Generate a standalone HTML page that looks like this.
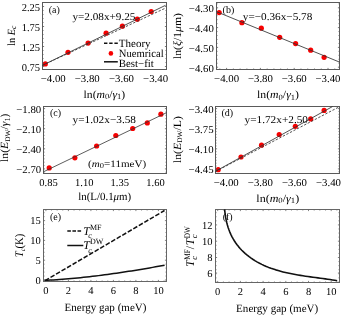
<!DOCTYPE html>
<html><head><meta charset="utf-8"><style>
html,body{margin:0;padding:0;background:#fff;width:343px;height:317px;overflow:hidden}
svg{display:block;will-change:transform}
text{text-rendering:geometricPrecision}
</style></head><body>
<svg width="343" height="317" viewBox="0 0 343 317">
<rect width="343" height="317" fill="#fff"/>
<circle cx="45.3" cy="63.9" r="2.6" fill="#f70000"/>
<circle cx="68" cy="52.3" r="2.6" fill="#f70000"/>
<circle cx="88.1" cy="43.1" r="2.6" fill="#f70000"/>
<circle cx="106.1" cy="33.2" r="2.6" fill="#f70000"/>
<circle cx="122.4" cy="26.2" r="2.6" fill="#f70000"/>
<circle cx="137.3" cy="19.2" r="2.6" fill="#f70000"/>
<circle cx="151.2" cy="11.6" r="2.6" fill="#f70000"/>
<circle cx="110.9" cy="53.4" r="2.3" fill="#f70000"/>
<circle cx="219.2" cy="12.6" r="2.6" fill="#f70000"/>
<circle cx="241.9" cy="22.7" r="2.6" fill="#f70000"/>
<circle cx="261.3" cy="28.2" r="2.6" fill="#f70000"/>
<circle cx="279.7" cy="37.3" r="2.6" fill="#f70000"/>
<circle cx="295.6" cy="43.6" r="2.6" fill="#f70000"/>
<circle cx="310.7" cy="50.2" r="2.6" fill="#f70000"/>
<circle cx="324.1" cy="57.3" r="2.6" fill="#f70000"/>
<circle cx="49.2" cy="167.9" r="2.6" fill="#f70000"/>
<circle cx="74.9" cy="157.8" r="2.6" fill="#f70000"/>
<circle cx="96.6" cy="146" r="2.6" fill="#f70000"/>
<circle cx="115.8" cy="135.5" r="2.6" fill="#f70000"/>
<circle cx="132.7" cy="128.5" r="2.6" fill="#f70000"/>
<circle cx="147.3" cy="122.9" r="2.6" fill="#f70000"/>
<circle cx="160.9" cy="114.2" r="2.6" fill="#f70000"/>
<circle cx="218.2" cy="169.7" r="2.6" fill="#f70000"/>
<circle cx="241" cy="157" r="2.6" fill="#f70000"/>
<circle cx="261.5" cy="145.2" r="2.6" fill="#f70000"/>
<circle cx="279.2" cy="134.5" r="2.6" fill="#f70000"/>
<circle cx="295.3" cy="126.3" r="2.6" fill="#f70000"/>
<circle cx="310.7" cy="118.9" r="2.6" fill="#f70000"/>
<circle cx="324.1" cy="110.4" r="2.6" fill="#f70000"/>
<rect x="42.5" y="2.5" width="124.0" height="67.0" fill="none" stroke="#5a5a5a" stroke-width="1"/>
<line x1="42.5" y1="6.5" x2="44.1" y2="6.5" stroke="#5a5a5a" stroke-width="0.8"/>
<line x1="42.5" y1="26.5" x2="44.1" y2="26.5" stroke="#5a5a5a" stroke-width="0.8"/>
<line x1="42.5" y1="46.5" x2="44.1" y2="46.5" stroke="#5a5a5a" stroke-width="0.8"/>
<line x1="42.5" y1="66.5" x2="44.1" y2="66.5" stroke="#5a5a5a" stroke-width="0.8"/>
<line x1="42.5" y1="10.5" x2="43.5" y2="10.5" stroke="#5a5a5a" stroke-width="0.8"/>
<line x1="42.5" y1="14.5" x2="43.5" y2="14.5" stroke="#5a5a5a" stroke-width="0.8"/>
<line x1="42.5" y1="18.5" x2="43.5" y2="18.5" stroke="#5a5a5a" stroke-width="0.8"/>
<line x1="42.5" y1="22.5" x2="43.5" y2="22.5" stroke="#5a5a5a" stroke-width="0.8"/>
<line x1="42.5" y1="30.5" x2="43.5" y2="30.5" stroke="#5a5a5a" stroke-width="0.8"/>
<line x1="42.5" y1="34.5" x2="43.5" y2="34.5" stroke="#5a5a5a" stroke-width="0.8"/>
<line x1="42.5" y1="38.5" x2="43.5" y2="38.5" stroke="#5a5a5a" stroke-width="0.8"/>
<line x1="42.5" y1="42.5" x2="43.5" y2="42.5" stroke="#5a5a5a" stroke-width="0.8"/>
<line x1="42.5" y1="50.5" x2="43.5" y2="50.5" stroke="#5a5a5a" stroke-width="0.8"/>
<line x1="42.5" y1="54.5" x2="43.5" y2="54.5" stroke="#5a5a5a" stroke-width="0.8"/>
<line x1="42.5" y1="58.5" x2="43.5" y2="58.5" stroke="#5a5a5a" stroke-width="0.8"/>
<line x1="42.5" y1="62.5" x2="43.5" y2="62.5" stroke="#5a5a5a" stroke-width="0.8"/>
<line x1="166.5" y1="6.5" x2="164.9" y2="6.5" stroke="#5a5a5a" stroke-width="0.8"/>
<line x1="166.5" y1="26.5" x2="164.9" y2="26.5" stroke="#5a5a5a" stroke-width="0.8"/>
<line x1="166.5" y1="46.5" x2="164.9" y2="46.5" stroke="#5a5a5a" stroke-width="0.8"/>
<line x1="166.5" y1="66.5" x2="164.9" y2="66.5" stroke="#5a5a5a" stroke-width="0.8"/>
<line x1="166.5" y1="10.5" x2="165.5" y2="10.5" stroke="#5a5a5a" stroke-width="0.8"/>
<line x1="166.5" y1="14.5" x2="165.5" y2="14.5" stroke="#5a5a5a" stroke-width="0.8"/>
<line x1="166.5" y1="18.5" x2="165.5" y2="18.5" stroke="#5a5a5a" stroke-width="0.8"/>
<line x1="166.5" y1="22.5" x2="165.5" y2="22.5" stroke="#5a5a5a" stroke-width="0.8"/>
<line x1="166.5" y1="30.5" x2="165.5" y2="30.5" stroke="#5a5a5a" stroke-width="0.8"/>
<line x1="166.5" y1="34.5" x2="165.5" y2="34.5" stroke="#5a5a5a" stroke-width="0.8"/>
<line x1="166.5" y1="38.5" x2="165.5" y2="38.5" stroke="#5a5a5a" stroke-width="0.8"/>
<line x1="166.5" y1="42.5" x2="165.5" y2="42.5" stroke="#5a5a5a" stroke-width="0.8"/>
<line x1="166.5" y1="50.5" x2="165.5" y2="50.5" stroke="#5a5a5a" stroke-width="0.8"/>
<line x1="166.5" y1="54.5" x2="165.5" y2="54.5" stroke="#5a5a5a" stroke-width="0.8"/>
<line x1="166.5" y1="58.5" x2="165.5" y2="58.5" stroke="#5a5a5a" stroke-width="0.8"/>
<line x1="166.5" y1="62.5" x2="165.5" y2="62.5" stroke="#5a5a5a" stroke-width="0.8"/>
<text x="40.0" y="10.8" font-family='"Liberation Serif", serif' font-size="10.5" text-anchor="end" >2.25</text>
<text x="40.0" y="30.8" font-family='"Liberation Serif", serif' font-size="10.5" text-anchor="end" >1.75</text>
<text x="40.0" y="50.8" font-family='"Liberation Serif", serif' font-size="10.5" text-anchor="end" >1.25</text>
<text x="40.0" y="70.8" font-family='"Liberation Serif", serif' font-size="10.5" text-anchor="end" >0.75</text>
<text x="53.2" y="81.8" font-family='"Liberation Serif", serif' font-size="10.5" text-anchor="middle" textLength="25.0" lengthAdjust="spacingAndGlyphs" >−4.00</text>
<text x="87.25" y="81.8" font-family='"Liberation Serif", serif' font-size="10.5" text-anchor="middle" textLength="25.0" lengthAdjust="spacingAndGlyphs" >−3.80</text>
<text x="121.5" y="81.8" font-family='"Liberation Serif", serif' font-size="10.5" text-anchor="middle" textLength="25.0" lengthAdjust="spacingAndGlyphs" >−3.60</text>
<text x="155.6" y="81.8" font-family='"Liberation Serif", serif' font-size="10.5" text-anchor="middle" textLength="25.0" lengthAdjust="spacingAndGlyphs" >−3.40</text>
<text x="104.4" y="97.9" font-family='"Liberation Serif", serif' font-size="11" text-anchor="middle" textLength="41.6" lengthAdjust="spacingAndGlyphs">ln(<tspan font-style="italic">m</tspan><tspan font-size="8" dy="1.4">0</tspan><tspan dy="-1.4">/</tspan><tspan font-style="italic">γ</tspan><tspan font-size="8" dy="1.4">1</tspan><tspan dy="-1.4">)</tspan></text>
<text transform="translate(14.6,35.7) rotate(-90)" font-family='"Liberation Serif", serif' font-size="11" text-anchor="middle" textLength="20.2" lengthAdjust="spacingAndGlyphs">ln <tspan font-style="italic">E</tspan><tspan font-size="8" dy="1.8" font-style="italic">c</tspan></text>
<text x="48.7" y="13.3" font-family='"Liberation Serif", serif' font-size="10" text-anchor="start" >(a)</text>
<text x="72.4" y="20.3" font-family='"Liberation Serif", serif' font-size="10.5" text-anchor="start" textLength="63" lengthAdjust="spacingAndGlyphs" >y=2.08x+9.25</text>
<line x1="42.5" y1="65.3" x2="165.5" y2="5.3" stroke="#333" stroke-width="0.85"/>
<line x1="42.5" y1="65.3" x2="165.5" y2="8.1" stroke="#333" stroke-width="0.85" stroke-dasharray="2.4,1.6"/>
<line x1="104" y1="43.3" x2="117.8" y2="43.3" stroke="#111" stroke-width="1.5" stroke-dasharray="3.4,1.8"/>
<text x="118.8" y="46.6" font-family='"Liberation Serif", serif' font-size="11" text-anchor="start" textLength="31.8" lengthAdjust="spacingAndGlyphs" >Theory</text>
<text x="118.8" y="56.6" font-family='"Liberation Serif", serif' font-size="11" text-anchor="start" textLength="44.8" lengthAdjust="spacingAndGlyphs" >Nuemrical</text>
<line x1="104" y1="61.8" x2="117.8" y2="61.8" stroke="#111" stroke-width="1.5"/>
<text x="118.8" y="66.6" font-family='"Liberation Serif", serif' font-size="11" text-anchor="start" textLength="35.1" lengthAdjust="spacingAndGlyphs" >Best−fit</text>
<rect x="216.5" y="2.5" width="123.0" height="67.0" fill="none" stroke="#5a5a5a" stroke-width="1"/>
<line x1="216.5" y1="7.8" x2="218.1" y2="7.8" stroke="#5a5a5a" stroke-width="0.8"/>
<line x1="216.5" y1="27.6" x2="218.1" y2="27.6" stroke="#5a5a5a" stroke-width="0.8"/>
<line x1="216.5" y1="47.4" x2="218.1" y2="47.4" stroke="#5a5a5a" stroke-width="0.8"/>
<line x1="216.5" y1="67.2" x2="218.1" y2="67.2" stroke="#5a5a5a" stroke-width="0.8"/>
<line x1="216.5" y1="3.84" x2="217.5" y2="3.84" stroke="#5a5a5a" stroke-width="0.8"/>
<line x1="216.5" y1="11.76" x2="217.5" y2="11.76" stroke="#5a5a5a" stroke-width="0.8"/>
<line x1="216.5" y1="15.719999999999999" x2="217.5" y2="15.719999999999999" stroke="#5a5a5a" stroke-width="0.8"/>
<line x1="216.5" y1="19.68" x2="217.5" y2="19.68" stroke="#5a5a5a" stroke-width="0.8"/>
<line x1="216.5" y1="23.64" x2="217.5" y2="23.64" stroke="#5a5a5a" stroke-width="0.8"/>
<line x1="216.5" y1="31.56" x2="217.5" y2="31.56" stroke="#5a5a5a" stroke-width="0.8"/>
<line x1="216.5" y1="35.519999999999996" x2="217.5" y2="35.519999999999996" stroke="#5a5a5a" stroke-width="0.8"/>
<line x1="216.5" y1="39.48" x2="217.5" y2="39.48" stroke="#5a5a5a" stroke-width="0.8"/>
<line x1="216.5" y1="43.44" x2="217.5" y2="43.44" stroke="#5a5a5a" stroke-width="0.8"/>
<line x1="216.5" y1="51.36" x2="217.5" y2="51.36" stroke="#5a5a5a" stroke-width="0.8"/>
<line x1="216.5" y1="55.31999999999999" x2="217.5" y2="55.31999999999999" stroke="#5a5a5a" stroke-width="0.8"/>
<line x1="216.5" y1="59.279999999999994" x2="217.5" y2="59.279999999999994" stroke="#5a5a5a" stroke-width="0.8"/>
<line x1="216.5" y1="63.239999999999995" x2="217.5" y2="63.239999999999995" stroke="#5a5a5a" stroke-width="0.8"/>
<line x1="339.5" y1="7.8" x2="337.9" y2="7.8" stroke="#5a5a5a" stroke-width="0.8"/>
<line x1="339.5" y1="27.6" x2="337.9" y2="27.6" stroke="#5a5a5a" stroke-width="0.8"/>
<line x1="339.5" y1="47.4" x2="337.9" y2="47.4" stroke="#5a5a5a" stroke-width="0.8"/>
<line x1="339.5" y1="67.2" x2="337.9" y2="67.2" stroke="#5a5a5a" stroke-width="0.8"/>
<line x1="339.5" y1="3.84" x2="338.5" y2="3.84" stroke="#5a5a5a" stroke-width="0.8"/>
<line x1="339.5" y1="11.76" x2="338.5" y2="11.76" stroke="#5a5a5a" stroke-width="0.8"/>
<line x1="339.5" y1="15.719999999999999" x2="338.5" y2="15.719999999999999" stroke="#5a5a5a" stroke-width="0.8"/>
<line x1="339.5" y1="19.68" x2="338.5" y2="19.68" stroke="#5a5a5a" stroke-width="0.8"/>
<line x1="339.5" y1="23.64" x2="338.5" y2="23.64" stroke="#5a5a5a" stroke-width="0.8"/>
<line x1="339.5" y1="31.56" x2="338.5" y2="31.56" stroke="#5a5a5a" stroke-width="0.8"/>
<line x1="339.5" y1="35.519999999999996" x2="338.5" y2="35.519999999999996" stroke="#5a5a5a" stroke-width="0.8"/>
<line x1="339.5" y1="39.48" x2="338.5" y2="39.48" stroke="#5a5a5a" stroke-width="0.8"/>
<line x1="339.5" y1="43.44" x2="338.5" y2="43.44" stroke="#5a5a5a" stroke-width="0.8"/>
<line x1="339.5" y1="51.36" x2="338.5" y2="51.36" stroke="#5a5a5a" stroke-width="0.8"/>
<line x1="339.5" y1="55.31999999999999" x2="338.5" y2="55.31999999999999" stroke="#5a5a5a" stroke-width="0.8"/>
<line x1="339.5" y1="59.279999999999994" x2="338.5" y2="59.279999999999994" stroke="#5a5a5a" stroke-width="0.8"/>
<line x1="339.5" y1="63.239999999999995" x2="338.5" y2="63.239999999999995" stroke="#5a5a5a" stroke-width="0.8"/>
<line x1="226.6" y1="69.5" x2="226.6" y2="67.9" stroke="#5a5a5a" stroke-width="0.8"/>
<line x1="260.4" y1="69.5" x2="260.4" y2="67.9" stroke="#5a5a5a" stroke-width="0.8"/>
<line x1="294.2" y1="69.5" x2="294.2" y2="67.9" stroke="#5a5a5a" stroke-width="0.8"/>
<line x1="328.0" y1="69.5" x2="328.0" y2="67.9" stroke="#5a5a5a" stroke-width="0.8"/>
<line x1="219.84" y1="69.5" x2="219.84" y2="68.5" stroke="#5a5a5a" stroke-width="0.8"/>
<line x1="233.35999999999999" y1="69.5" x2="233.35999999999999" y2="68.5" stroke="#5a5a5a" stroke-width="0.8"/>
<line x1="240.11999999999998" y1="69.5" x2="240.11999999999998" y2="68.5" stroke="#5a5a5a" stroke-width="0.8"/>
<line x1="246.88" y1="69.5" x2="246.88" y2="68.5" stroke="#5a5a5a" stroke-width="0.8"/>
<line x1="253.64" y1="69.5" x2="253.64" y2="68.5" stroke="#5a5a5a" stroke-width="0.8"/>
<line x1="267.15999999999997" y1="69.5" x2="267.15999999999997" y2="68.5" stroke="#5a5a5a" stroke-width="0.8"/>
<line x1="273.91999999999996" y1="69.5" x2="273.91999999999996" y2="68.5" stroke="#5a5a5a" stroke-width="0.8"/>
<line x1="280.67999999999995" y1="69.5" x2="280.67999999999995" y2="68.5" stroke="#5a5a5a" stroke-width="0.8"/>
<line x1="287.43999999999994" y1="69.5" x2="287.43999999999994" y2="68.5" stroke="#5a5a5a" stroke-width="0.8"/>
<line x1="300.9599999999999" y1="69.5" x2="300.9599999999999" y2="68.5" stroke="#5a5a5a" stroke-width="0.8"/>
<line x1="307.7199999999999" y1="69.5" x2="307.7199999999999" y2="68.5" stroke="#5a5a5a" stroke-width="0.8"/>
<line x1="314.47999999999996" y1="69.5" x2="314.47999999999996" y2="68.5" stroke="#5a5a5a" stroke-width="0.8"/>
<line x1="321.23999999999995" y1="69.5" x2="321.23999999999995" y2="68.5" stroke="#5a5a5a" stroke-width="0.8"/>
<line x1="334.75999999999993" y1="69.5" x2="334.75999999999993" y2="68.5" stroke="#5a5a5a" stroke-width="0.8"/>
<text x="213.8" y="12.2" font-family='"Liberation Serif", serif' font-size="10.5" text-anchor="end" textLength="25.0" lengthAdjust="spacingAndGlyphs" >−4.30</text>
<text x="213.8" y="32.0" font-family='"Liberation Serif", serif' font-size="10.5" text-anchor="end" textLength="25.0" lengthAdjust="spacingAndGlyphs" >−4.40</text>
<text x="213.8" y="51.8" font-family='"Liberation Serif", serif' font-size="10.5" text-anchor="end" textLength="25.0" lengthAdjust="spacingAndGlyphs" >−4.50</text>
<text x="213.8" y="71.60000000000001" font-family='"Liberation Serif", serif' font-size="10.5" text-anchor="end" textLength="25.0" lengthAdjust="spacingAndGlyphs" >−4.60</text>
<text x="226.6" y="81.8" font-family='"Liberation Serif", serif' font-size="10.5" text-anchor="middle" textLength="25.0" lengthAdjust="spacingAndGlyphs" >−4.00</text>
<text x="260.4" y="81.8" font-family='"Liberation Serif", serif' font-size="10.5" text-anchor="middle" textLength="25.0" lengthAdjust="spacingAndGlyphs" >−3.80</text>
<text x="294.2" y="81.8" font-family='"Liberation Serif", serif' font-size="10.5" text-anchor="middle" textLength="25.0" lengthAdjust="spacingAndGlyphs" >−3.60</text>
<text x="328.0" y="81.8" font-family='"Liberation Serif", serif' font-size="10.5" text-anchor="middle" textLength="25.0" lengthAdjust="spacingAndGlyphs" >−3.40</text>
<text x="278" y="98.4" font-family='"Liberation Serif", serif' font-size="11" text-anchor="middle" textLength="42" lengthAdjust="spacingAndGlyphs">ln(<tspan font-style="italic">m</tspan><tspan font-size="8" dy="1.4">0</tspan><tspan dy="-1.4">/</tspan><tspan font-style="italic">γ</tspan><tspan font-size="8" dy="1.4">1</tspan><tspan dy="-1.4">)</tspan></text>
<text transform="translate(181,36.1) rotate(-90)" font-family='"Liberation Serif", serif' font-size="11" text-anchor="middle" textLength="46" lengthAdjust="spacingAndGlyphs">ln(<tspan font-style="italic">ξ</tspan>/1<tspan font-style="italic">μ</tspan>m)</text>
<text x="222.6" y="12.6" font-family='"Liberation Serif", serif' font-size="10" text-anchor="start" >(b)</text>
<text x="242.8" y="20.3" font-family='"Liberation Serif", serif' font-size="10.5" text-anchor="start" textLength="69.5" lengthAdjust="spacingAndGlyphs" >y=−0.36x−5.78</text>
<line x1="216.5" y1="11.7" x2="339.5" y2="62.1" stroke="#333" stroke-width="0.85"/>
<rect x="43.5" y="106.5" width="123.0" height="67.0" fill="none" stroke="#5a5a5a" stroke-width="1"/>
<line x1="43.5" y1="108.6" x2="45.1" y2="108.6" stroke="#5a5a5a" stroke-width="0.8"/>
<line x1="43.5" y1="128.7" x2="45.1" y2="128.7" stroke="#5a5a5a" stroke-width="0.8"/>
<line x1="43.5" y1="148.8" x2="45.1" y2="148.8" stroke="#5a5a5a" stroke-width="0.8"/>
<line x1="43.5" y1="168.9" x2="45.1" y2="168.9" stroke="#5a5a5a" stroke-width="0.8"/>
<line x1="43.5" y1="111.94999999999999" x2="44.5" y2="111.94999999999999" stroke="#5a5a5a" stroke-width="0.8"/>
<line x1="43.5" y1="115.3" x2="44.5" y2="115.3" stroke="#5a5a5a" stroke-width="0.8"/>
<line x1="43.5" y1="118.64999999999999" x2="44.5" y2="118.64999999999999" stroke="#5a5a5a" stroke-width="0.8"/>
<line x1="43.5" y1="121.99999999999999" x2="44.5" y2="121.99999999999999" stroke="#5a5a5a" stroke-width="0.8"/>
<line x1="43.5" y1="125.35" x2="44.5" y2="125.35" stroke="#5a5a5a" stroke-width="0.8"/>
<line x1="43.5" y1="132.04999999999998" x2="44.5" y2="132.04999999999998" stroke="#5a5a5a" stroke-width="0.8"/>
<line x1="43.5" y1="135.39999999999998" x2="44.5" y2="135.39999999999998" stroke="#5a5a5a" stroke-width="0.8"/>
<line x1="43.5" y1="138.75" x2="44.5" y2="138.75" stroke="#5a5a5a" stroke-width="0.8"/>
<line x1="43.5" y1="142.1" x2="44.5" y2="142.1" stroke="#5a5a5a" stroke-width="0.8"/>
<line x1="43.5" y1="145.45" x2="44.5" y2="145.45" stroke="#5a5a5a" stroke-width="0.8"/>
<line x1="43.5" y1="152.14999999999998" x2="44.5" y2="152.14999999999998" stroke="#5a5a5a" stroke-width="0.8"/>
<line x1="43.5" y1="155.5" x2="44.5" y2="155.5" stroke="#5a5a5a" stroke-width="0.8"/>
<line x1="43.5" y1="158.84999999999997" x2="44.5" y2="158.84999999999997" stroke="#5a5a5a" stroke-width="0.8"/>
<line x1="43.5" y1="162.2" x2="44.5" y2="162.2" stroke="#5a5a5a" stroke-width="0.8"/>
<line x1="43.5" y1="165.54999999999998" x2="44.5" y2="165.54999999999998" stroke="#5a5a5a" stroke-width="0.8"/>
<line x1="43.5" y1="172.24999999999997" x2="44.5" y2="172.24999999999997" stroke="#5a5a5a" stroke-width="0.8"/>
<line x1="166.5" y1="108.6" x2="164.9" y2="108.6" stroke="#5a5a5a" stroke-width="0.8"/>
<line x1="166.5" y1="128.7" x2="164.9" y2="128.7" stroke="#5a5a5a" stroke-width="0.8"/>
<line x1="166.5" y1="148.8" x2="164.9" y2="148.8" stroke="#5a5a5a" stroke-width="0.8"/>
<line x1="166.5" y1="168.9" x2="164.9" y2="168.9" stroke="#5a5a5a" stroke-width="0.8"/>
<line x1="166.5" y1="111.94999999999999" x2="165.5" y2="111.94999999999999" stroke="#5a5a5a" stroke-width="0.8"/>
<line x1="166.5" y1="115.3" x2="165.5" y2="115.3" stroke="#5a5a5a" stroke-width="0.8"/>
<line x1="166.5" y1="118.64999999999999" x2="165.5" y2="118.64999999999999" stroke="#5a5a5a" stroke-width="0.8"/>
<line x1="166.5" y1="121.99999999999999" x2="165.5" y2="121.99999999999999" stroke="#5a5a5a" stroke-width="0.8"/>
<line x1="166.5" y1="125.35" x2="165.5" y2="125.35" stroke="#5a5a5a" stroke-width="0.8"/>
<line x1="166.5" y1="132.04999999999998" x2="165.5" y2="132.04999999999998" stroke="#5a5a5a" stroke-width="0.8"/>
<line x1="166.5" y1="135.39999999999998" x2="165.5" y2="135.39999999999998" stroke="#5a5a5a" stroke-width="0.8"/>
<line x1="166.5" y1="138.75" x2="165.5" y2="138.75" stroke="#5a5a5a" stroke-width="0.8"/>
<line x1="166.5" y1="142.1" x2="165.5" y2="142.1" stroke="#5a5a5a" stroke-width="0.8"/>
<line x1="166.5" y1="145.45" x2="165.5" y2="145.45" stroke="#5a5a5a" stroke-width="0.8"/>
<line x1="166.5" y1="152.14999999999998" x2="165.5" y2="152.14999999999998" stroke="#5a5a5a" stroke-width="0.8"/>
<line x1="166.5" y1="155.5" x2="165.5" y2="155.5" stroke="#5a5a5a" stroke-width="0.8"/>
<line x1="166.5" y1="158.84999999999997" x2="165.5" y2="158.84999999999997" stroke="#5a5a5a" stroke-width="0.8"/>
<line x1="166.5" y1="162.2" x2="165.5" y2="162.2" stroke="#5a5a5a" stroke-width="0.8"/>
<line x1="166.5" y1="165.54999999999998" x2="165.5" y2="165.54999999999998" stroke="#5a5a5a" stroke-width="0.8"/>
<line x1="166.5" y1="172.24999999999997" x2="165.5" y2="172.24999999999997" stroke="#5a5a5a" stroke-width="0.8"/>
<text x="41.2" y="112.8" font-family='"Liberation Serif", serif' font-size="10.5" text-anchor="end" textLength="25.0" lengthAdjust="spacingAndGlyphs" >−1.80</text>
<text x="41.2" y="132.89999999999998" font-family='"Liberation Serif", serif' font-size="10.5" text-anchor="end" textLength="25.0" lengthAdjust="spacingAndGlyphs" >−2.10</text>
<text x="41.2" y="153.0" font-family='"Liberation Serif", serif' font-size="10.5" text-anchor="end" textLength="25.0" lengthAdjust="spacingAndGlyphs" >−2.40</text>
<text x="41.2" y="173.1" font-family='"Liberation Serif", serif' font-size="10.5" text-anchor="end" textLength="25.0" lengthAdjust="spacingAndGlyphs" >−2.70</text>
<text x="48.5" y="185.9" font-family='"Liberation Serif", serif' font-size="10.5" text-anchor="middle" >0.85</text>
<text x="84.2" y="185.9" font-family='"Liberation Serif", serif' font-size="10.5" text-anchor="middle" >1.10</text>
<text x="119.8" y="185.9" font-family='"Liberation Serif", serif' font-size="10.5" text-anchor="middle" >1.35</text>
<text x="155.5" y="185.9" font-family='"Liberation Serif", serif' font-size="10.5" text-anchor="middle" >1.60</text>
<text x="104.7" y="200.3" font-family='"Liberation Serif", serif' font-size="11" text-anchor="middle" textLength="53" lengthAdjust="spacingAndGlyphs">ln(L/0.1<tspan font-style="italic">μ</tspan>m)</text>
<text transform="translate(8.3,137.7) rotate(-90)" font-family='"Liberation Serif", serif' font-size="11" text-anchor="middle" textLength="48.4" lengthAdjust="spacingAndGlyphs">ln(<tspan font-style="italic">E</tspan><tspan font-size="7" dy="1.8">DW</tspan><tspan dy="-1.8">/</tspan><tspan font-style="italic">γ</tspan><tspan font-size="8" dy="1.8">1</tspan><tspan dy="-1.8">)</tspan></text>
<text x="49.9" y="116.3" font-family='"Liberation Serif", serif' font-size="10" text-anchor="start" >(c)</text>
<text x="72.5" y="123.3" font-family='"Liberation Serif", serif' font-size="10.5" text-anchor="start" textLength="63.5" lengthAdjust="spacingAndGlyphs" >y=1.02x−3.58</text>
<text x="88.1" y="166.9" font-family='"Liberation Serif", serif' font-size="9.8" text-anchor="start" textLength="58" lengthAdjust="spacingAndGlyphs">(<tspan font-style="italic">m</tspan><tspan font-size="7.5" dy="1.5">0</tspan><tspan dy="-1.5">=11meV)</tspan></text>
<line x1="43.5" y1="171.8" x2="166.5" y2="112.7" stroke="#333" stroke-width="0.8"/>
<rect x="215.5" y="106.5" width="124.0" height="67.0" fill="none" stroke="#5a5a5a" stroke-width="1"/>
<line x1="215.5" y1="108.6" x2="217.1" y2="108.6" stroke="#5a5a5a" stroke-width="0.8"/>
<line x1="215.5" y1="128.7" x2="217.1" y2="128.7" stroke="#5a5a5a" stroke-width="0.8"/>
<line x1="215.5" y1="148.8" x2="217.1" y2="148.8" stroke="#5a5a5a" stroke-width="0.8"/>
<line x1="215.5" y1="168.9" x2="217.1" y2="168.9" stroke="#5a5a5a" stroke-width="0.8"/>
<line x1="215.5" y1="111.47142857142856" x2="216.5" y2="111.47142857142856" stroke="#5a5a5a" stroke-width="0.8"/>
<line x1="215.5" y1="114.34285714285714" x2="216.5" y2="114.34285714285714" stroke="#5a5a5a" stroke-width="0.8"/>
<line x1="215.5" y1="117.21428571428571" x2="216.5" y2="117.21428571428571" stroke="#5a5a5a" stroke-width="0.8"/>
<line x1="215.5" y1="120.08571428571427" x2="216.5" y2="120.08571428571427" stroke="#5a5a5a" stroke-width="0.8"/>
<line x1="215.5" y1="122.95714285714284" x2="216.5" y2="122.95714285714284" stroke="#5a5a5a" stroke-width="0.8"/>
<line x1="215.5" y1="125.82857142857142" x2="216.5" y2="125.82857142857142" stroke="#5a5a5a" stroke-width="0.8"/>
<line x1="215.5" y1="131.57142857142856" x2="216.5" y2="131.57142857142856" stroke="#5a5a5a" stroke-width="0.8"/>
<line x1="215.5" y1="134.44285714285712" x2="216.5" y2="134.44285714285712" stroke="#5a5a5a" stroke-width="0.8"/>
<line x1="215.5" y1="137.3142857142857" x2="216.5" y2="137.3142857142857" stroke="#5a5a5a" stroke-width="0.8"/>
<line x1="215.5" y1="140.18571428571425" x2="216.5" y2="140.18571428571425" stroke="#5a5a5a" stroke-width="0.8"/>
<line x1="215.5" y1="143.05714285714285" x2="216.5" y2="143.05714285714285" stroke="#5a5a5a" stroke-width="0.8"/>
<line x1="215.5" y1="145.92857142857142" x2="216.5" y2="145.92857142857142" stroke="#5a5a5a" stroke-width="0.8"/>
<line x1="215.5" y1="151.67142857142855" x2="216.5" y2="151.67142857142855" stroke="#5a5a5a" stroke-width="0.8"/>
<line x1="215.5" y1="154.54285714285712" x2="216.5" y2="154.54285714285712" stroke="#5a5a5a" stroke-width="0.8"/>
<line x1="215.5" y1="157.4142857142857" x2="216.5" y2="157.4142857142857" stroke="#5a5a5a" stroke-width="0.8"/>
<line x1="215.5" y1="160.28571428571428" x2="216.5" y2="160.28571428571428" stroke="#5a5a5a" stroke-width="0.8"/>
<line x1="215.5" y1="163.15714285714284" x2="216.5" y2="163.15714285714284" stroke="#5a5a5a" stroke-width="0.8"/>
<line x1="215.5" y1="166.0285714285714" x2="216.5" y2="166.0285714285714" stroke="#5a5a5a" stroke-width="0.8"/>
<line x1="215.5" y1="171.77142857142854" x2="216.5" y2="171.77142857142854" stroke="#5a5a5a" stroke-width="0.8"/>
<line x1="339.5" y1="108.6" x2="337.9" y2="108.6" stroke="#5a5a5a" stroke-width="0.8"/>
<line x1="339.5" y1="128.7" x2="337.9" y2="128.7" stroke="#5a5a5a" stroke-width="0.8"/>
<line x1="339.5" y1="148.8" x2="337.9" y2="148.8" stroke="#5a5a5a" stroke-width="0.8"/>
<line x1="339.5" y1="168.9" x2="337.9" y2="168.9" stroke="#5a5a5a" stroke-width="0.8"/>
<line x1="339.5" y1="111.47142857142856" x2="338.5" y2="111.47142857142856" stroke="#5a5a5a" stroke-width="0.8"/>
<line x1="339.5" y1="114.34285714285714" x2="338.5" y2="114.34285714285714" stroke="#5a5a5a" stroke-width="0.8"/>
<line x1="339.5" y1="117.21428571428571" x2="338.5" y2="117.21428571428571" stroke="#5a5a5a" stroke-width="0.8"/>
<line x1="339.5" y1="120.08571428571427" x2="338.5" y2="120.08571428571427" stroke="#5a5a5a" stroke-width="0.8"/>
<line x1="339.5" y1="122.95714285714284" x2="338.5" y2="122.95714285714284" stroke="#5a5a5a" stroke-width="0.8"/>
<line x1="339.5" y1="125.82857142857142" x2="338.5" y2="125.82857142857142" stroke="#5a5a5a" stroke-width="0.8"/>
<line x1="339.5" y1="131.57142857142856" x2="338.5" y2="131.57142857142856" stroke="#5a5a5a" stroke-width="0.8"/>
<line x1="339.5" y1="134.44285714285712" x2="338.5" y2="134.44285714285712" stroke="#5a5a5a" stroke-width="0.8"/>
<line x1="339.5" y1="137.3142857142857" x2="338.5" y2="137.3142857142857" stroke="#5a5a5a" stroke-width="0.8"/>
<line x1="339.5" y1="140.18571428571425" x2="338.5" y2="140.18571428571425" stroke="#5a5a5a" stroke-width="0.8"/>
<line x1="339.5" y1="143.05714285714285" x2="338.5" y2="143.05714285714285" stroke="#5a5a5a" stroke-width="0.8"/>
<line x1="339.5" y1="145.92857142857142" x2="338.5" y2="145.92857142857142" stroke="#5a5a5a" stroke-width="0.8"/>
<line x1="339.5" y1="151.67142857142855" x2="338.5" y2="151.67142857142855" stroke="#5a5a5a" stroke-width="0.8"/>
<line x1="339.5" y1="154.54285714285712" x2="338.5" y2="154.54285714285712" stroke="#5a5a5a" stroke-width="0.8"/>
<line x1="339.5" y1="157.4142857142857" x2="338.5" y2="157.4142857142857" stroke="#5a5a5a" stroke-width="0.8"/>
<line x1="339.5" y1="160.28571428571428" x2="338.5" y2="160.28571428571428" stroke="#5a5a5a" stroke-width="0.8"/>
<line x1="339.5" y1="163.15714285714284" x2="338.5" y2="163.15714285714284" stroke="#5a5a5a" stroke-width="0.8"/>
<line x1="339.5" y1="166.0285714285714" x2="338.5" y2="166.0285714285714" stroke="#5a5a5a" stroke-width="0.8"/>
<line x1="339.5" y1="171.77142857142854" x2="338.5" y2="171.77142857142854" stroke="#5a5a5a" stroke-width="0.8"/>
<text x="213.6" y="112.8" font-family='"Liberation Serif", serif' font-size="10.5" text-anchor="end" textLength="25.0" lengthAdjust="spacingAndGlyphs" >−3.40</text>
<text x="213.6" y="132.89999999999998" font-family='"Liberation Serif", serif' font-size="10.5" text-anchor="end" textLength="25.0" lengthAdjust="spacingAndGlyphs" >−3.75</text>
<text x="213.6" y="153.0" font-family='"Liberation Serif", serif' font-size="10.5" text-anchor="end" textLength="25.0" lengthAdjust="spacingAndGlyphs" >−4.10</text>
<text x="213.6" y="173.1" font-family='"Liberation Serif", serif' font-size="10.5" text-anchor="end" textLength="25.0" lengthAdjust="spacingAndGlyphs" >−4.45</text>
<text x="226.2" y="185.9" font-family='"Liberation Serif", serif' font-size="10.5" text-anchor="middle" textLength="25.0" lengthAdjust="spacingAndGlyphs" >−4.00</text>
<text x="260.3" y="185.9" font-family='"Liberation Serif", serif' font-size="10.5" text-anchor="middle" textLength="25.0" lengthAdjust="spacingAndGlyphs" >−3.80</text>
<text x="294.4" y="185.9" font-family='"Liberation Serif", serif' font-size="10.5" text-anchor="middle" textLength="25.0" lengthAdjust="spacingAndGlyphs" >−3.60</text>
<text x="328.5" y="185.9" font-family='"Liberation Serif", serif' font-size="10.5" text-anchor="middle" textLength="25.0" lengthAdjust="spacingAndGlyphs" >−3.40</text>
<text x="277.75" y="201.6" font-family='"Liberation Serif", serif' font-size="11" text-anchor="middle" textLength="42.9" lengthAdjust="spacingAndGlyphs">ln(<tspan font-style="italic">m</tspan><tspan font-size="8" dy="1.4">0</tspan><tspan dy="-1.4">/</tspan><tspan font-style="italic">γ</tspan><tspan font-size="8" dy="1.4">1</tspan><tspan dy="-1.4">)</tspan></text>
<text transform="translate(180.5,139.6) rotate(-90)" font-family='"Liberation Serif", serif' font-size="11" text-anchor="middle" textLength="46.8" lengthAdjust="spacingAndGlyphs">ln(<tspan font-style="italic">E</tspan><tspan font-size="7" dy="1.8">DW</tspan><tspan dy="-1.8">/L)</tspan></text>
<text x="221.5" y="116.1" font-family='"Liberation Serif", serif' font-size="10" text-anchor="start" >(d)</text>
<text x="244.5" y="123.3" font-family='"Liberation Serif", serif' font-size="10.5" text-anchor="start" textLength="63.5" lengthAdjust="spacingAndGlyphs" >y=1.72x+2.50</text>
<line x1="215.5" y1="171.3" x2="332.6" y2="106.5" stroke="#333" stroke-width="0.85"/>
<line x1="215.5" y1="171.5" x2="338.9" y2="107" stroke="#333" stroke-width="0.85" stroke-dasharray="2.4,1.6"/>
<rect x="43.5" y="209.5" width="123.0" height="72.0" fill="none" stroke="#666" stroke-width="1"/>
<line x1="43.5" y1="220.6" x2="45.1" y2="220.6" stroke="#666" stroke-width="0.8"/>
<line x1="43.5" y1="240.4" x2="45.1" y2="240.4" stroke="#666" stroke-width="0.8"/>
<line x1="43.5" y1="260.2" x2="45.1" y2="260.2" stroke="#666" stroke-width="0.8"/>
<line x1="43.5" y1="280.0" x2="45.1" y2="280.0" stroke="#666" stroke-width="0.8"/>
<line x1="43.5" y1="212.67999999999998" x2="44.5" y2="212.67999999999998" stroke="#666" stroke-width="0.8"/>
<line x1="43.5" y1="216.64" x2="44.5" y2="216.64" stroke="#666" stroke-width="0.8"/>
<line x1="43.5" y1="224.56" x2="44.5" y2="224.56" stroke="#666" stroke-width="0.8"/>
<line x1="43.5" y1="228.52" x2="44.5" y2="228.52" stroke="#666" stroke-width="0.8"/>
<line x1="43.5" y1="232.48" x2="44.5" y2="232.48" stroke="#666" stroke-width="0.8"/>
<line x1="43.5" y1="236.44" x2="44.5" y2="236.44" stroke="#666" stroke-width="0.8"/>
<line x1="43.5" y1="244.36" x2="44.5" y2="244.36" stroke="#666" stroke-width="0.8"/>
<line x1="43.5" y1="248.32000000000002" x2="44.5" y2="248.32000000000002" stroke="#666" stroke-width="0.8"/>
<line x1="43.5" y1="252.28" x2="44.5" y2="252.28" stroke="#666" stroke-width="0.8"/>
<line x1="43.5" y1="256.24" x2="44.5" y2="256.24" stroke="#666" stroke-width="0.8"/>
<line x1="43.5" y1="264.16" x2="44.5" y2="264.16" stroke="#666" stroke-width="0.8"/>
<line x1="43.5" y1="268.12" x2="44.5" y2="268.12" stroke="#666" stroke-width="0.8"/>
<line x1="43.5" y1="272.08000000000004" x2="44.5" y2="272.08000000000004" stroke="#666" stroke-width="0.8"/>
<line x1="43.5" y1="276.04" x2="44.5" y2="276.04" stroke="#666" stroke-width="0.8"/>
<line x1="166.5" y1="220.6" x2="164.9" y2="220.6" stroke="#666" stroke-width="0.8"/>
<line x1="166.5" y1="240.4" x2="164.9" y2="240.4" stroke="#666" stroke-width="0.8"/>
<line x1="166.5" y1="260.2" x2="164.9" y2="260.2" stroke="#666" stroke-width="0.8"/>
<line x1="166.5" y1="280.0" x2="164.9" y2="280.0" stroke="#666" stroke-width="0.8"/>
<line x1="166.5" y1="212.67999999999998" x2="165.5" y2="212.67999999999998" stroke="#666" stroke-width="0.8"/>
<line x1="166.5" y1="216.64" x2="165.5" y2="216.64" stroke="#666" stroke-width="0.8"/>
<line x1="166.5" y1="224.56" x2="165.5" y2="224.56" stroke="#666" stroke-width="0.8"/>
<line x1="166.5" y1="228.52" x2="165.5" y2="228.52" stroke="#666" stroke-width="0.8"/>
<line x1="166.5" y1="232.48" x2="165.5" y2="232.48" stroke="#666" stroke-width="0.8"/>
<line x1="166.5" y1="236.44" x2="165.5" y2="236.44" stroke="#666" stroke-width="0.8"/>
<line x1="166.5" y1="244.36" x2="165.5" y2="244.36" stroke="#666" stroke-width="0.8"/>
<line x1="166.5" y1="248.32000000000002" x2="165.5" y2="248.32000000000002" stroke="#666" stroke-width="0.8"/>
<line x1="166.5" y1="252.28" x2="165.5" y2="252.28" stroke="#666" stroke-width="0.8"/>
<line x1="166.5" y1="256.24" x2="165.5" y2="256.24" stroke="#666" stroke-width="0.8"/>
<line x1="166.5" y1="264.16" x2="165.5" y2="264.16" stroke="#666" stroke-width="0.8"/>
<line x1="166.5" y1="268.12" x2="165.5" y2="268.12" stroke="#666" stroke-width="0.8"/>
<line x1="166.5" y1="272.08000000000004" x2="165.5" y2="272.08000000000004" stroke="#666" stroke-width="0.8"/>
<line x1="166.5" y1="276.04" x2="165.5" y2="276.04" stroke="#666" stroke-width="0.8"/>
<line x1="45.9" y1="281.5" x2="45.9" y2="279.9" stroke="#666" stroke-width="0.8"/>
<line x1="68.4" y1="281.5" x2="68.4" y2="279.9" stroke="#666" stroke-width="0.8"/>
<line x1="90.9" y1="281.5" x2="90.9" y2="279.9" stroke="#666" stroke-width="0.8"/>
<line x1="113.4" y1="281.5" x2="113.4" y2="279.9" stroke="#666" stroke-width="0.8"/>
<line x1="135.9" y1="281.5" x2="135.9" y2="279.9" stroke="#666" stroke-width="0.8"/>
<line x1="158.4" y1="281.5" x2="158.4" y2="279.9" stroke="#666" stroke-width="0.8"/>
<line x1="51.525" y1="281.5" x2="51.525" y2="280.5" stroke="#666" stroke-width="0.8"/>
<line x1="57.150000000000006" y1="281.5" x2="57.150000000000006" y2="280.5" stroke="#666" stroke-width="0.8"/>
<line x1="62.775000000000006" y1="281.5" x2="62.775000000000006" y2="280.5" stroke="#666" stroke-width="0.8"/>
<line x1="74.025" y1="281.5" x2="74.025" y2="280.5" stroke="#666" stroke-width="0.8"/>
<line x1="79.65" y1="281.5" x2="79.65" y2="280.5" stroke="#666" stroke-width="0.8"/>
<line x1="85.275" y1="281.5" x2="85.275" y2="280.5" stroke="#666" stroke-width="0.8"/>
<line x1="96.525" y1="281.5" x2="96.525" y2="280.5" stroke="#666" stroke-width="0.8"/>
<line x1="102.15" y1="281.5" x2="102.15" y2="280.5" stroke="#666" stroke-width="0.8"/>
<line x1="107.77500000000002" y1="281.5" x2="107.77500000000002" y2="280.5" stroke="#666" stroke-width="0.8"/>
<line x1="119.02500000000003" y1="281.5" x2="119.02500000000003" y2="280.5" stroke="#666" stroke-width="0.8"/>
<line x1="124.65000000000003" y1="281.5" x2="124.65000000000003" y2="280.5" stroke="#666" stroke-width="0.8"/>
<line x1="130.27500000000003" y1="281.5" x2="130.27500000000003" y2="280.5" stroke="#666" stroke-width="0.8"/>
<line x1="141.52500000000003" y1="281.5" x2="141.52500000000003" y2="280.5" stroke="#666" stroke-width="0.8"/>
<line x1="147.15000000000003" y1="281.5" x2="147.15000000000003" y2="280.5" stroke="#666" stroke-width="0.8"/>
<line x1="152.77500000000003" y1="281.5" x2="152.77500000000003" y2="280.5" stroke="#666" stroke-width="0.8"/>
<line x1="164.02500000000003" y1="281.5" x2="164.02500000000003" y2="280.5" stroke="#666" stroke-width="0.8"/>
<line x1="45.9" y1="209.5" x2="45.9" y2="211.1" stroke="#666" stroke-width="0.8"/>
<line x1="68.4" y1="209.5" x2="68.4" y2="211.1" stroke="#666" stroke-width="0.8"/>
<line x1="90.9" y1="209.5" x2="90.9" y2="211.1" stroke="#666" stroke-width="0.8"/>
<line x1="113.4" y1="209.5" x2="113.4" y2="211.1" stroke="#666" stroke-width="0.8"/>
<line x1="135.9" y1="209.5" x2="135.9" y2="211.1" stroke="#666" stroke-width="0.8"/>
<line x1="158.4" y1="209.5" x2="158.4" y2="211.1" stroke="#666" stroke-width="0.8"/>
<line x1="51.525" y1="209.5" x2="51.525" y2="210.5" stroke="#666" stroke-width="0.8"/>
<line x1="57.150000000000006" y1="209.5" x2="57.150000000000006" y2="210.5" stroke="#666" stroke-width="0.8"/>
<line x1="62.775000000000006" y1="209.5" x2="62.775000000000006" y2="210.5" stroke="#666" stroke-width="0.8"/>
<line x1="74.025" y1="209.5" x2="74.025" y2="210.5" stroke="#666" stroke-width="0.8"/>
<line x1="79.65" y1="209.5" x2="79.65" y2="210.5" stroke="#666" stroke-width="0.8"/>
<line x1="85.275" y1="209.5" x2="85.275" y2="210.5" stroke="#666" stroke-width="0.8"/>
<line x1="96.525" y1="209.5" x2="96.525" y2="210.5" stroke="#666" stroke-width="0.8"/>
<line x1="102.15" y1="209.5" x2="102.15" y2="210.5" stroke="#666" stroke-width="0.8"/>
<line x1="107.77500000000002" y1="209.5" x2="107.77500000000002" y2="210.5" stroke="#666" stroke-width="0.8"/>
<line x1="119.02500000000003" y1="209.5" x2="119.02500000000003" y2="210.5" stroke="#666" stroke-width="0.8"/>
<line x1="124.65000000000003" y1="209.5" x2="124.65000000000003" y2="210.5" stroke="#666" stroke-width="0.8"/>
<line x1="130.27500000000003" y1="209.5" x2="130.27500000000003" y2="210.5" stroke="#666" stroke-width="0.8"/>
<line x1="141.52500000000003" y1="209.5" x2="141.52500000000003" y2="210.5" stroke="#666" stroke-width="0.8"/>
<line x1="147.15000000000003" y1="209.5" x2="147.15000000000003" y2="210.5" stroke="#666" stroke-width="0.8"/>
<line x1="152.77500000000003" y1="209.5" x2="152.77500000000003" y2="210.5" stroke="#666" stroke-width="0.8"/>
<line x1="164.02500000000003" y1="209.5" x2="164.02500000000003" y2="210.5" stroke="#666" stroke-width="0.8"/>
<text x="40.7" y="224.4" font-family='"Liberation Serif", serif' font-size="10.5" text-anchor="end" >15</text>
<text x="40.7" y="244.20000000000002" font-family='"Liberation Serif", serif' font-size="10.5" text-anchor="end" >10</text>
<text x="40.7" y="264.0" font-family='"Liberation Serif", serif' font-size="10.5" text-anchor="end" >5</text>
<text x="40.7" y="283.8" font-family='"Liberation Serif", serif' font-size="10.5" text-anchor="end" >0</text>
<text x="45.9" y="293.8" font-family='"Liberation Serif", serif' font-size="10.5" text-anchor="middle" >0</text>
<text x="68.4" y="293.8" font-family='"Liberation Serif", serif' font-size="10.5" text-anchor="middle" >2</text>
<text x="90.9" y="293.8" font-family='"Liberation Serif", serif' font-size="10.5" text-anchor="middle" >4</text>
<text x="113.4" y="293.8" font-family='"Liberation Serif", serif' font-size="10.5" text-anchor="middle" >6</text>
<text x="135.9" y="293.8" font-family='"Liberation Serif", serif' font-size="10.5" text-anchor="middle" >8</text>
<text x="158.4" y="293.8" font-family='"Liberation Serif", serif' font-size="10.5" text-anchor="middle" >10</text>
<text x="105.5" y="311.4" font-family='"Liberation Serif", serif' font-size="11.2" text-anchor="middle" textLength="81.9" lengthAdjust="spacingAndGlyphs" >Energy gap (meV)</text>
<text transform="translate(22.9,245.5) rotate(-90)" font-family='"Liberation Serif", serif' font-size="11.5" text-anchor="middle" textLength="23.5" lengthAdjust="spacingAndGlyphs"><tspan font-style="italic">T</tspan><tspan font-size="7" dy="1.6" font-style="italic">c</tspan><tspan dy="-1.6">(K)</tspan></text>
<text x="49.9" y="220.3" font-family='"Liberation Serif", serif' font-size="10" text-anchor="start" >(e)</text>
<line x1="67.3" y1="230.9" x2="81.9" y2="230.9" stroke="#111" stroke-width="1.5" stroke-dasharray="3.6,1.5"/>
<line x1="67.3" y1="245.5" x2="83.3" y2="245.5" stroke="#111" stroke-width="1.5"/>
<text x="83.3" y="234.6" font-family='"Liberation Serif", serif' font-size="11.8" font-style="italic">T</text>
<text x="88.3" y="237.5" font-family='"Liberation Serif", serif' font-size="8" font-style="italic">c</text>
<text x="89.9" y="230.2" font-family='"Liberation Serif", serif' font-size="8">MF</text>
<text x="83.3" y="249.2" font-family='"Liberation Serif", serif' font-size="11.8" font-style="italic">T</text>
<text x="88.3" y="252.8" font-family='"Liberation Serif", serif' font-size="8" font-style="italic">c</text>
<text x="89.9" y="244.1" font-family='"Liberation Serif", serif' font-size="8">DW</text>
<line x1="45" y1="280.7" x2="164.5" y2="210.5" stroke="#111" stroke-width="1.5" stroke-dasharray="4.6,1.8"/>
<polyline points="44.50,280.20 47.50,280.14 50.51,280.02 53.51,279.88 56.51,279.71 59.51,279.52 62.52,279.30 65.52,279.07 68.52,278.83 71.52,278.56 74.53,278.28 77.53,277.99 80.53,277.69 83.53,277.37 86.53,277.04 89.54,276.70 92.54,276.35 95.54,275.99 98.54,275.62 101.55,275.23 104.55,274.84 107.55,274.44 110.55,274.02 113.56,273.60 116.56,273.17 119.56,272.73 122.56,272.29 125.57,271.83 128.57,271.36 131.57,270.89 134.57,270.41 137.58,269.92 140.58,269.43 143.58,268.92 146.58,268.41 149.59,267.89 152.59,267.37 155.59,266.83 158.59,266.29 161.60,265.75 164.60,265.19" fill="none" stroke="#111" stroke-width="1.5"/>
<rect x="215.5" y="209.5" width="124.0" height="73.0" fill="none" stroke="#666" stroke-width="1"/>
<line x1="215.5" y1="224.9" x2="217.1" y2="224.9" stroke="#666" stroke-width="0.8"/>
<line x1="215.5" y1="241.2" x2="217.1" y2="241.2" stroke="#666" stroke-width="0.8"/>
<line x1="215.5" y1="257.5" x2="217.1" y2="257.5" stroke="#666" stroke-width="0.8"/>
<line x1="215.5" y1="273.0" x2="217.1" y2="273.0" stroke="#666" stroke-width="0.8"/>
<line x1="215.5" y1="212.675" x2="216.5" y2="212.675" stroke="#666" stroke-width="0.8"/>
<line x1="215.5" y1="216.75" x2="216.5" y2="216.75" stroke="#666" stroke-width="0.8"/>
<line x1="215.5" y1="220.82500000000002" x2="216.5" y2="220.82500000000002" stroke="#666" stroke-width="0.8"/>
<line x1="215.5" y1="228.975" x2="216.5" y2="228.975" stroke="#666" stroke-width="0.8"/>
<line x1="215.5" y1="233.05" x2="216.5" y2="233.05" stroke="#666" stroke-width="0.8"/>
<line x1="215.5" y1="237.125" x2="216.5" y2="237.125" stroke="#666" stroke-width="0.8"/>
<line x1="215.5" y1="245.27499999999998" x2="216.5" y2="245.27499999999998" stroke="#666" stroke-width="0.8"/>
<line x1="215.5" y1="249.34999999999997" x2="216.5" y2="249.34999999999997" stroke="#666" stroke-width="0.8"/>
<line x1="215.5" y1="253.42499999999998" x2="216.5" y2="253.42499999999998" stroke="#666" stroke-width="0.8"/>
<line x1="215.5" y1="261.575" x2="216.5" y2="261.575" stroke="#666" stroke-width="0.8"/>
<line x1="215.5" y1="265.65" x2="216.5" y2="265.65" stroke="#666" stroke-width="0.8"/>
<line x1="215.5" y1="269.72499999999997" x2="216.5" y2="269.72499999999997" stroke="#666" stroke-width="0.8"/>
<line x1="215.5" y1="273.79999999999995" x2="216.5" y2="273.79999999999995" stroke="#666" stroke-width="0.8"/>
<line x1="215.5" y1="277.87499999999994" x2="216.5" y2="277.87499999999994" stroke="#666" stroke-width="0.8"/>
<line x1="215.5" y1="281.94999999999993" x2="216.5" y2="281.94999999999993" stroke="#666" stroke-width="0.8"/>
<line x1="339.5" y1="224.9" x2="337.9" y2="224.9" stroke="#666" stroke-width="0.8"/>
<line x1="339.5" y1="241.2" x2="337.9" y2="241.2" stroke="#666" stroke-width="0.8"/>
<line x1="339.5" y1="257.5" x2="337.9" y2="257.5" stroke="#666" stroke-width="0.8"/>
<line x1="339.5" y1="273.0" x2="337.9" y2="273.0" stroke="#666" stroke-width="0.8"/>
<line x1="339.5" y1="212.675" x2="338.5" y2="212.675" stroke="#666" stroke-width="0.8"/>
<line x1="339.5" y1="216.75" x2="338.5" y2="216.75" stroke="#666" stroke-width="0.8"/>
<line x1="339.5" y1="220.82500000000002" x2="338.5" y2="220.82500000000002" stroke="#666" stroke-width="0.8"/>
<line x1="339.5" y1="228.975" x2="338.5" y2="228.975" stroke="#666" stroke-width="0.8"/>
<line x1="339.5" y1="233.05" x2="338.5" y2="233.05" stroke="#666" stroke-width="0.8"/>
<line x1="339.5" y1="237.125" x2="338.5" y2="237.125" stroke="#666" stroke-width="0.8"/>
<line x1="339.5" y1="245.27499999999998" x2="338.5" y2="245.27499999999998" stroke="#666" stroke-width="0.8"/>
<line x1="339.5" y1="249.34999999999997" x2="338.5" y2="249.34999999999997" stroke="#666" stroke-width="0.8"/>
<line x1="339.5" y1="253.42499999999998" x2="338.5" y2="253.42499999999998" stroke="#666" stroke-width="0.8"/>
<line x1="339.5" y1="261.575" x2="338.5" y2="261.575" stroke="#666" stroke-width="0.8"/>
<line x1="339.5" y1="265.65" x2="338.5" y2="265.65" stroke="#666" stroke-width="0.8"/>
<line x1="339.5" y1="269.72499999999997" x2="338.5" y2="269.72499999999997" stroke="#666" stroke-width="0.8"/>
<line x1="339.5" y1="273.79999999999995" x2="338.5" y2="273.79999999999995" stroke="#666" stroke-width="0.8"/>
<line x1="339.5" y1="277.87499999999994" x2="338.5" y2="277.87499999999994" stroke="#666" stroke-width="0.8"/>
<line x1="339.5" y1="281.94999999999993" x2="338.5" y2="281.94999999999993" stroke="#666" stroke-width="0.8"/>
<line x1="217.7" y1="282.5" x2="217.7" y2="280.9" stroke="#666" stroke-width="0.8"/>
<line x1="240.4" y1="282.5" x2="240.4" y2="280.9" stroke="#666" stroke-width="0.8"/>
<line x1="263.1" y1="282.5" x2="263.1" y2="280.9" stroke="#666" stroke-width="0.8"/>
<line x1="285.8" y1="282.5" x2="285.8" y2="280.9" stroke="#666" stroke-width="0.8"/>
<line x1="308.5" y1="282.5" x2="308.5" y2="280.9" stroke="#666" stroke-width="0.8"/>
<line x1="331.2" y1="282.5" x2="331.2" y2="280.9" stroke="#666" stroke-width="0.8"/>
<line x1="223.375" y1="282.5" x2="223.375" y2="281.5" stroke="#666" stroke-width="0.8"/>
<line x1="229.05" y1="282.5" x2="229.05" y2="281.5" stroke="#666" stroke-width="0.8"/>
<line x1="234.725" y1="282.5" x2="234.725" y2="281.5" stroke="#666" stroke-width="0.8"/>
<line x1="246.07500000000002" y1="282.5" x2="246.07500000000002" y2="281.5" stroke="#666" stroke-width="0.8"/>
<line x1="251.75" y1="282.5" x2="251.75" y2="281.5" stroke="#666" stroke-width="0.8"/>
<line x1="257.425" y1="282.5" x2="257.425" y2="281.5" stroke="#666" stroke-width="0.8"/>
<line x1="268.77500000000003" y1="282.5" x2="268.77500000000003" y2="281.5" stroke="#666" stroke-width="0.8"/>
<line x1="274.45000000000005" y1="282.5" x2="274.45000000000005" y2="281.5" stroke="#666" stroke-width="0.8"/>
<line x1="280.12500000000006" y1="282.5" x2="280.12500000000006" y2="281.5" stroke="#666" stroke-width="0.8"/>
<line x1="291.475" y1="282.5" x2="291.475" y2="281.5" stroke="#666" stroke-width="0.8"/>
<line x1="297.15000000000003" y1="282.5" x2="297.15000000000003" y2="281.5" stroke="#666" stroke-width="0.8"/>
<line x1="302.82500000000005" y1="282.5" x2="302.82500000000005" y2="281.5" stroke="#666" stroke-width="0.8"/>
<line x1="314.17500000000007" y1="282.5" x2="314.17500000000007" y2="281.5" stroke="#666" stroke-width="0.8"/>
<line x1="319.8500000000001" y1="282.5" x2="319.8500000000001" y2="281.5" stroke="#666" stroke-width="0.8"/>
<line x1="325.5250000000001" y1="282.5" x2="325.5250000000001" y2="281.5" stroke="#666" stroke-width="0.8"/>
<line x1="336.8750000000001" y1="282.5" x2="336.8750000000001" y2="281.5" stroke="#666" stroke-width="0.8"/>
<line x1="217.7" y1="209.5" x2="217.7" y2="211.1" stroke="#666" stroke-width="0.8"/>
<line x1="240.4" y1="209.5" x2="240.4" y2="211.1" stroke="#666" stroke-width="0.8"/>
<line x1="263.1" y1="209.5" x2="263.1" y2="211.1" stroke="#666" stroke-width="0.8"/>
<line x1="285.8" y1="209.5" x2="285.8" y2="211.1" stroke="#666" stroke-width="0.8"/>
<line x1="308.5" y1="209.5" x2="308.5" y2="211.1" stroke="#666" stroke-width="0.8"/>
<line x1="331.2" y1="209.5" x2="331.2" y2="211.1" stroke="#666" stroke-width="0.8"/>
<line x1="223.375" y1="209.5" x2="223.375" y2="210.5" stroke="#666" stroke-width="0.8"/>
<line x1="229.05" y1="209.5" x2="229.05" y2="210.5" stroke="#666" stroke-width="0.8"/>
<line x1="234.725" y1="209.5" x2="234.725" y2="210.5" stroke="#666" stroke-width="0.8"/>
<line x1="246.07500000000002" y1="209.5" x2="246.07500000000002" y2="210.5" stroke="#666" stroke-width="0.8"/>
<line x1="251.75" y1="209.5" x2="251.75" y2="210.5" stroke="#666" stroke-width="0.8"/>
<line x1="257.425" y1="209.5" x2="257.425" y2="210.5" stroke="#666" stroke-width="0.8"/>
<line x1="268.77500000000003" y1="209.5" x2="268.77500000000003" y2="210.5" stroke="#666" stroke-width="0.8"/>
<line x1="274.45000000000005" y1="209.5" x2="274.45000000000005" y2="210.5" stroke="#666" stroke-width="0.8"/>
<line x1="280.12500000000006" y1="209.5" x2="280.12500000000006" y2="210.5" stroke="#666" stroke-width="0.8"/>
<line x1="291.475" y1="209.5" x2="291.475" y2="210.5" stroke="#666" stroke-width="0.8"/>
<line x1="297.15000000000003" y1="209.5" x2="297.15000000000003" y2="210.5" stroke="#666" stroke-width="0.8"/>
<line x1="302.82500000000005" y1="209.5" x2="302.82500000000005" y2="210.5" stroke="#666" stroke-width="0.8"/>
<line x1="314.17500000000007" y1="209.5" x2="314.17500000000007" y2="210.5" stroke="#666" stroke-width="0.8"/>
<line x1="319.8500000000001" y1="209.5" x2="319.8500000000001" y2="210.5" stroke="#666" stroke-width="0.8"/>
<line x1="325.5250000000001" y1="209.5" x2="325.5250000000001" y2="210.5" stroke="#666" stroke-width="0.8"/>
<line x1="336.8750000000001" y1="209.5" x2="336.8750000000001" y2="210.5" stroke="#666" stroke-width="0.8"/>
<text x="212.6" y="228.70000000000002" font-family='"Liberation Serif", serif' font-size="10.5" text-anchor="end" >12</text>
<text x="212.6" y="245.0" font-family='"Liberation Serif", serif' font-size="10.5" text-anchor="end" >10</text>
<text x="212.6" y="261.3" font-family='"Liberation Serif", serif' font-size="10.5" text-anchor="end" >8</text>
<text x="212.6" y="276.8" font-family='"Liberation Serif", serif' font-size="10.5" text-anchor="end" >6</text>
<text x="217.7" y="294.7" font-family='"Liberation Serif", serif' font-size="10.5" text-anchor="middle" >0</text>
<text x="240.4" y="294.7" font-family='"Liberation Serif", serif' font-size="10.5" text-anchor="middle" >2</text>
<text x="263.1" y="294.7" font-family='"Liberation Serif", serif' font-size="10.5" text-anchor="middle" >4</text>
<text x="285.8" y="294.7" font-family='"Liberation Serif", serif' font-size="10.5" text-anchor="middle" >6</text>
<text x="308.5" y="294.7" font-family='"Liberation Serif", serif' font-size="10.5" text-anchor="middle" >8</text>
<text x="331.2" y="294.7" font-family='"Liberation Serif", serif' font-size="10.5" text-anchor="middle" >10</text>
<text x="277.2" y="312.4" font-family='"Liberation Serif", serif' font-size="11.2" text-anchor="middle" textLength="82.2" lengthAdjust="spacingAndGlyphs" >Energy gap (meV)</text>
<g transform="translate(193.5,0) rotate(-90)">
<text x="-266.8" y="0" font-family='"Liberation Serif", serif' font-size="11.7" font-style="italic">T</text>
<text x="-259.8" y="3.5" font-family='"Liberation Serif", serif' font-size="8.5" font-style="italic">c</text>
<text x="-259.8" y="-3.9" font-family='"Liberation Serif", serif' font-size="8.5" textLength="10.5" lengthAdjust="spacingAndGlyphs">MF</text>
<text x="-249.2" y="0" font-family='"Liberation Serif", serif' font-size="11.7">/</text>
<text x="-245.2" y="0" font-family='"Liberation Serif", serif' font-size="11.7" font-style="italic">T</text>
<text x="-238.2" y="3.5" font-family='"Liberation Serif", serif' font-size="8.5" font-style="italic">c</text>
<text x="-238.2" y="-3.9" font-family='"Liberation Serif", serif' font-size="8.5" textLength="12" lengthAdjust="spacingAndGlyphs">DW</text>
</g>
<text x="222.7" y="220.3" font-family='"Liberation Serif", serif' font-size="10" text-anchor="start" >(f)</text>
<polyline points="224.64,209.31 224.91,212.06 225.26,214.76 225.68,217.40 226.18,219.99 226.75,222.52 227.40,225.00 228.13,227.42 228.95,229.79 229.85,232.10 230.83,234.35 231.90,236.54 233.05,238.67 234.29,240.75 235.61,242.76 237.02,244.72 238.52,246.61 240.10,248.44 241.76,250.21 243.50,251.92 245.31,253.56 247.18,255.14 249.12,256.66 251.12,258.11 253.16,259.50 255.26,260.82 257.40,262.08 259.58,263.27 261.80,264.39 264.05,265.45 266.33,266.44 268.64,267.38 270.97,268.26 273.33,269.08 275.72,269.86 278.13,270.58 280.55,271.26 282.99,271.90 285.45,272.50 287.92,273.06 290.41,273.59 292.90,274.08 295.40,274.55 297.90,274.98 300.41,275.40 302.92,275.80 305.44,276.17 307.94,276.54 310.45,276.88 312.95,277.23 315.44,277.56 317.92,277.89 320.38,278.22 322.84,278.54 325.27,278.88 327.69,279.22 330.09,279.57 332.47,279.93 334.83,280.31 337.16,280.70" fill="none" stroke="#111" stroke-width="1.6" stroke-linejoin="round"/>
</svg></body></html>
